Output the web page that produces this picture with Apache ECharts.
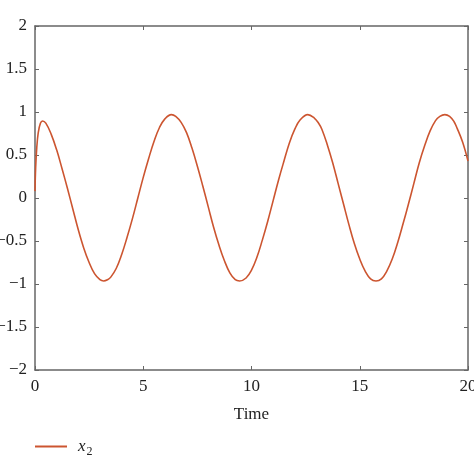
<!DOCTYPE html>
<html>
<head>
<meta charset="utf-8">
<script src="https://cdn.jsdelivr.net/npm/echarts@6/dist/echarts.min.js"></script>
<style>
html, body { margin: 0; padding: 0; background: #fff; }
#main { width: 474px; height: 474px; }
</style>
</head>
<body>
<div id="main"></div>
<script>
// time samples and x2 values
var timeValues = [0, 0.03, 0.08, 0.15, 0.25, 0.35, 0.5, 0.75, 1, 1.25, 1.5, 1.75, 2, 2.25, 2.5, 2.75, 3, 3.17, 3.35, 3.5, 3.75, 4, 4.25, 4.5, 4.75, 5, 5.25, 5.5, 5.75, 6, 6.3, 6.5, 6.75, 7, 7.25, 7.5, 7.75, 8, 8.25, 8.5, 8.75, 9, 9.25, 9.45, 9.75, 10, 10.25, 10.5, 10.75, 11, 11.25, 11.5, 11.75, 12, 12.25, 12.6, 12.9, 13.1, 13.25, 13.5, 13.75, 14, 14.25, 14.5, 14.75, 15, 15.25, 15.5, 15.75, 16, 16.25, 16.5, 16.75, 17, 17.25, 17.5, 17.75, 18, 18.25, 18.5, 18.7, 18.93, 19.15, 19.35, 19.5, 19.75, 20];
var x2Values = [0.08, 0.35, 0.58, 0.76, 0.87, 0.895, 0.87, 0.74, 0.56, 0.34, 0.11, -0.13, -0.37, -0.58, -0.75, -0.88, -0.95, -0.965, -0.95, -0.92, -0.82, -0.66, -0.46, -0.24, 0.0, 0.24, 0.46, 0.66, 0.82, 0.92, 0.97, 0.95, 0.88, 0.76, 0.58, 0.37, 0.14, -0.10, -0.34, -0.55, -0.73, -0.87, -0.95, -0.965, -0.93, -0.84, -0.69, -0.49, -0.27, -0.03, 0.21, 0.43, 0.64, 0.80, 0.91, 0.97, 0.93, 0.87, 0.80, 0.62, 0.41, 0.17, -0.07, -0.31, -0.53, -0.71, -0.85, -0.94, -0.965, -0.94, -0.85, -0.71, -0.52, -0.30, -0.07, 0.17, 0.41, 0.61, 0.78, 0.90, 0.95, 0.97, 0.95, 0.89, 0.81, 0.65, 0.43];
var xTicks = [0, 5, 10, 15, 20];
var yTicks = [-2, -1.5, -1, -0.5, 0, 0.5, 1, 1.5, 2];

var lineColor = '#cc5530';
var axisColor = '#666666';
var serif = '"Liberation Serif", "DejaVu Serif", serif';

var points = timeValues.map(function (t, i) { return [t, x2Values[i]]; });

function fmtY(v) {
    return String(v).replace('-', '\u2212');
}

var myChart = echarts.init(document.getElementById('main'), null, {renderer: 'canvas'});

var boxAxisLine = {show: true, onZero: false, lineStyle: {color: axisColor, width: 1.5}};
var boxTick = {show: true, inside: true, length: 4, lineStyle: {color: axisColor, width: 1}};

var option = {
    animation: false,
    backgroundColor: '#ffffff',
    grid: {left: 35, right: 6, top: 26, bottom: 104, containLabel: false, outerBoundsMode: 'none'},
    legend: {
        left: 30,
        top: 433,
        itemWidth: 32,
        itemHeight: 14,
        itemGap: 10,
        icon: 'path://M0,6 L32,6 L32,8 L0,8 Z',
        data: ['x2'],
        formatter: function () { return '{a|x}{b|2}'; },
        textStyle: {
            padding: [0, 0, 0, 6],
            rich: {
                a: {fontFamily: serif, fontStyle: 'italic', fontSize: 17, color: '#222'},
                b: {fontFamily: serif, fontSize: 12, color: '#222', padding: [10, 0, 0, 1]}
            }
        }
    },
    xAxis: [{
        type: 'value',
        min: 0,
        max: 20,
        interval: 5,
        name: 'Time',
        nameLocation: 'middle',
        nameGap: 36,
        nameTextStyle: {fontFamily: serif, fontSize: 17, color: '#222'},
        axisLine: boxAxisLine,
        axisTick: boxTick,
        splitLine: {show: false},
        axisLabel: {
            fontFamily: serif, fontSize: 17, color: '#222', margin: 8,
            formatter: function (v) { return xTicks.indexOf(v) >= 0 ? String(v) : ''; }
        }
    }, {
        type: 'value',
        position: 'top',
        min: 0,
        max: 20,
        interval: 5,
        axisLine: boxAxisLine,
        axisTick: boxTick,
        splitLine: {show: false},
        axisLabel: {show: false}
    }],
    yAxis: [{
        type: 'value',
        min: -2,
        max: 2,
        interval: 0.5,
        axisLine: boxAxisLine,
        axisTick: boxTick,
        splitLine: {show: false},
        axisLabel: {
            fontFamily: serif, fontSize: 17, color: '#222', margin: 8,
            formatter: function (v) { return yTicks.indexOf(v) >= 0 ? fmtY(v) : ''; }
        }
    }, {
        type: 'value',
        position: 'right',
        min: -2,
        max: 2,
        interval: 0.5,
        axisLine: boxAxisLine,
        axisTick: boxTick,
        splitLine: {show: false},
        axisLabel: {show: false}
    }],
    series: [{
        name: 'x2',
        type: 'line',
        data: points,
        smooth: 0.4,
        showSymbol: false,
        symbol: 'none',
        clip: true,
        lineStyle: {color: lineColor, width: 1.6},
        itemStyle: {color: lineColor}
    }]
};
myChart.setOption(option);
</script>
</body>
</html>
